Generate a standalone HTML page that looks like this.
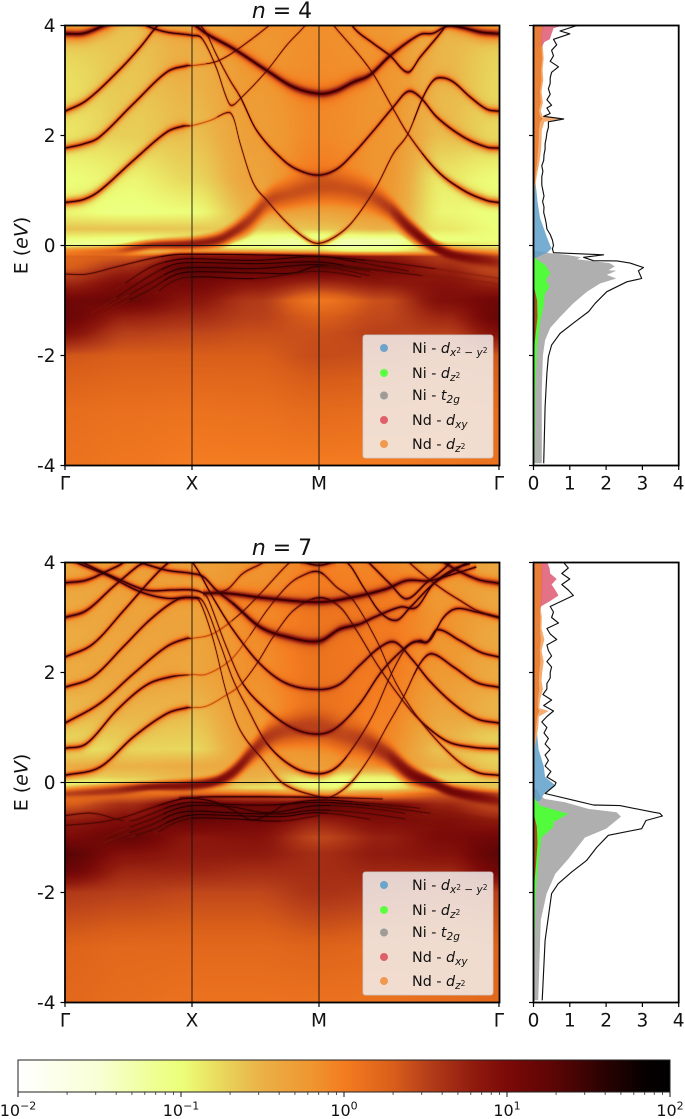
<!DOCTYPE html>
<html lang="en">
<head>
<meta charset="utf-8">
<title>Spectral function and DOS n=4, n=7</title>
<style>
html,body{margin:0;padding:0;background:#fff;}
#figure{position:relative;width:685px;height:1119px;overflow:hidden;background:#fff;font-family:"DejaVu Sans","Liberation Sans",sans-serif;}
canvas{position:absolute;display:block;}
#overlay{position:absolute;left:0;top:0;}
text{font-family:"DejaVu Sans","Liberation Sans",sans-serif;fill:#111;}
.lg{font-size:14.3px;}
.s{font-size:10.5px;font-style:italic;}
.ss{font-size:7.5px;}
.i{font-style:italic;}
</style>
</head>
<body>
<div id="figure">
<canvas id="heat4" width="434" height="441" style="left:65px;top:25px"></canvas>
<canvas id="heat7" width="434" height="441" style="left:65px;top:562px"></canvas>
<svg id="overlay" width="685" height="1119" viewBox="0 0 685 1119" xmlns="http://www.w3.org/2000/svg">
  <defs>
    <clipPath id="clip4"><rect x="65" y="25.5" width="434" height="440"/></clipPath>
    <clipPath id="clip7"><rect x="65" y="562.5" width="434" height="440"/></clipPath>
    <clipPath id="clipd4"><rect x="533.5" y="25.5" width="145" height="440"/></clipPath>
    <clipPath id="clipd7"><rect x="533.5" y="562.5" width="145" height="440"/></clipPath>
    <linearGradient id="cbGrad" x1="0" x2="1" y1="0" y2="0"></linearGradient>
    <filter id="soft" x="-5%" y="-5%" width="110%" height="110%"><feGaussianBlur stdDeviation="0.35"/></filter>
  </defs>
  <g id="layer4" clip-path="url(#clip4)"></g>
  <g id="layer7" clip-path="url(#clip7)"></g>
  <g id="dosLayer4" clip-path="url(#clipd4)"></g>
  <g id="dosLayer7" clip-path="url(#clipd7)"></g>
  <g id="axes"></g>

  <text x="282" y="18" text-anchor="middle" font-size="22"><tspan class="i">n</tspan> = 4</text>
  <text x="282" y="555" text-anchor="middle" font-size="22"><tspan class="i">n</tspan> = 7</text>
  <text transform="translate(27.500,245.500) rotate(-90)" text-anchor="middle" font-size="19">E (<tspan class="i">eV</tspan>)</text>
  <text transform="translate(27.500,782.500) rotate(-90)" text-anchor="middle" font-size="19">E (<tspan class="i">eV</tspan>)</text>

  <g id="legend4">
    <rect x="363" y="335" width="130" height="123" rx="2.5" fill="#f2f0ee" fill-opacity="0.85" stroke="#ccc" stroke-opacity="0.8" stroke-width="1"/>
    <circle cx="384" cy="348" r="4" fill="#6ba5cb"/>
    <text class="lg" x="412" y="353">Ni - <tspan class="i">d</tspan><tspan class="s" dy="3">x</tspan><tspan class="ss" dy="-3">2</tspan><tspan class="s" dy="3"> − y</tspan><tspan class="ss" dy="-3">2</tspan></text>
    <circle cx="384" cy="373" r="4" fill="#5bff3f"/>
    <text class="lg" x="412" y="378">Ni - <tspan class="i">d</tspan><tspan class="s" dy="3">z</tspan><tspan class="ss" dy="-3">2</tspan></text>
    <circle cx="384" cy="395.500" r="4" fill="#a09c98"/>
    <text class="lg" x="412" y="400">Ni - <tspan class="i">t</tspan><tspan class="s" dy="3">2g</tspan></text>
    <circle cx="384" cy="420" r="4" fill="#e0606a"/>
    <text class="lg" x="412" y="425">Nd - <tspan class="i">d</tspan><tspan class="s" dy="3">xy</tspan></text>
    <circle cx="384" cy="444" r="4" fill="#f09a50"/>
    <text class="lg" x="412" y="449">Nd - <tspan class="i">d</tspan><tspan class="s" dy="3">z</tspan><tspan class="ss" dy="-3">2</tspan></text>
  </g>
  <g id="legend7" transform="translate(0,537)">
    <rect x="363" y="335" width="130" height="123" rx="2.5" fill="#f2f0ee" fill-opacity="0.85" stroke="#ccc" stroke-opacity="0.8" stroke-width="1"/>
    <circle cx="384" cy="348" r="4" fill="#6ba5cb"/>
    <text class="lg" x="412" y="353">Ni - <tspan class="i">d</tspan><tspan class="s" dy="3">x</tspan><tspan class="ss" dy="-3">2</tspan><tspan class="s" dy="3"> − y</tspan><tspan class="ss" dy="-3">2</tspan></text>
    <circle cx="384" cy="373" r="4" fill="#5bff3f"/>
    <text class="lg" x="412" y="378">Ni - <tspan class="i">d</tspan><tspan class="s" dy="3">z</tspan><tspan class="ss" dy="-3">2</tspan></text>
    <circle cx="384" cy="395.500" r="4" fill="#a09c98"/>
    <text class="lg" x="412" y="400">Ni - <tspan class="i">t</tspan><tspan class="s" dy="3">2g</tspan></text>
    <circle cx="384" cy="420" r="4" fill="#e0606a"/>
    <text class="lg" x="412" y="425">Nd - <tspan class="i">d</tspan><tspan class="s" dy="3">xy</tspan></text>
    <circle cx="384" cy="444" r="4" fill="#f09a50"/>
    <text class="lg" x="412" y="449">Nd - <tspan class="i">d</tspan><tspan class="s" dy="3">z</tspan><tspan class="ss" dy="-3">2</tspan></text>
  </g>

  <g id="colorbar">
    <rect x="18" y="1060" width="652" height="32" fill="url(#cbGrad)" stroke="#222" stroke-width="1"/>
  </g>
</svg>
</div>
<script>
/* ---------- tick labels ---------- */
const energyTicks=[4,2,0,-2,-4];
const energyTickLabels=["4","2","0","-2","-4"];
const pathTicks=[0,1,2,3.417];
const pathTickLabels=["Γ","X","M","Γ"];
const dosTicks=[0,1,2,3,4];
const dosTickLabels=["0","1","2","3","4"];
const cbDecades=[-2,-1,0,1,2];
const cbExponents=["−2","−1","0","1","2"];

/* ---------- colormap (log10 intensity -> colour) ---------- */
const cmapPos=[-2,-1.5,-1.15,-1,-0.85,-0.7,-0.5,-0.2,0,0.3,0.5,0.8,1,1.3,1.6,1.85,2];
const cmapHex=["#ffffff","#f8ffd4","#eeff90","#ecff7a","#ebe866","#e8cf58","#ebb046","#ef9630","#f47c20","#d95f1a","#b8401a","#8f1a0e","#7b0a08","#5a0505","#2a0202","#060000","#000000"];

/* ---------- background intensity (log10) on a coarse k/E grid ---------- */
const bgK=[0,0.5,1,1.5,2,2.5,3,3.417];
const bgE=[4,3,2,1.2,0.6,0.3,0.1,0,-0.1,-0.2,-0.4,-0.7,-1,-1.3,-1.6,-2,-3,-4];
const bg4=[
[-0.72,-0.62,-0.45,-0.2,-0.15,-0.2,-0.55,-0.72],
[-0.8,-0.65,-0.5,-0.25,-0.12,-0.2,-0.55,-0.75],
[-0.85,-0.7,-0.6,-0.3,-0.1,-0.2,-0.6,-0.78],
[-1.0,-0.95,-0.75,-0.35,0.02,-0.2,-0.9,-1.0],
[-1.0,-1.05,-1.0,-0.5,-0.38,-0.25,-0.95,-1.05],
[-0.62,-0.62,-0.65,-0.7,-0.65,-0.5,-0.85,-1.0],
[-1.05,-1.1,-0.95,-1.2,-1.4,-1.3,-1.05,-1.0],
[-1.3,-1.35,-1.25,-1.35,-1.5,-1.25,-0.7,-0.9],
[-0.75,-0.75,-0.95,-1.0,-1.25,-1.0,-0.5,-0.55],
[0.2,0.3,0.8,0.9,1.1,0.8,0.5,0.2],
[0.3,0.65,1.25,1.15,1.2,1.05,0.7,0.35],
[0.7,1.0,1.05,0.85,0.65,0.8,0.9,0.7],
[1.1,1.15,0.85,0.55,0.05,0.4,0.95,1.1],
[1.15,0.75,0.65,0.5,0.3,0.45,0.7,1.15],
[0.9,0.5,0.45,0.4,0.4,0.5,0.5,0.9],
[0.35,0.3,0.3,0.3,0.42,0.4,0.3,0.35],
[0.15,0.12,0.1,0.12,0.18,0.15,0.1,0.15],
[0.1,0.05,0,0,0,0,0.05,0.1]];
const bg7=[
[-0.42,-0.35,-0.35,-0.2,-0.05,-0.1,-0.3,-0.42],
[-0.45,-0.35,-0.35,-0.15,0.05,0.02,-0.2,-0.4],
[-0.45,-0.4,-0.38,-0.15,0.08,0.02,-0.25,-0.45],
[-0.6,-0.55,-0.6,-0.25,0.1,-0.05,-0.4,-0.55],
[-0.85,-0.75,-0.75,-0.3,-0.2,-0.1,-0.65,-0.85],
[-0.5,-0.5,-0.45,-0.4,-0.3,-0.2,-0.5,-0.7],
[-0.85,-0.65,-0.55,-0.5,-1.0,-0.9,-0.75,-0.85],
[-1.05,-0.95,-0.55,-0.6,-1.15,-1.05,-0.75,-0.7],
[-0.85,-0.55,-0.35,-0.9,-1.1,-0.95,-0.35,-0.65],
[0.0,0.1,0.1,0.0,-0.6,-0.2,0.3,0.3],
[0.3,0.65,1.2,1.1,1.2,1.05,0.7,0.35],
[0.8,0.95,1.15,1.05,0.75,0.95,0.95,0.8],
[1.0,1.2,0.85,0.9,0.45,0.75,1.0,1.1],
[1.3,0.9,0.8,0.8,0.65,0.8,0.9,1.25],
[1.15,0.7,0.7,0.65,0.65,0.7,0.7,1.1],
[0.55,0.5,0.45,0.45,0.6,0.55,0.45,0.5],
[0.25,0.2,0.2,0.2,0.25,0.2,0.2,0.25],
[0.2,0.15,0.1,0.1,0.1,0.1,0.15,0.2]];

/* ---------- n=4 bands: k path position, energy (eV), spectral weight ---------- */
const a4k=[0,0.15,0.275,0.54,0.8,0.93,1,1.15,1.29,1.33,1.38,1.48,1.59,1.745,1.9,2,2.14,2.27,2.45,2.585,2.7,2.82,2.9,2.97,3.06,3.19,3.32,3.417];
const a4e=[0.78,0.84,1.0,1.55,2.06,2.17,2.18,2.28,2.42,2.3,1.85,1.15,0.82,0.42,0.12,0.04,0.18,0.45,1.06,1.67,2.03,2.7,3.0,3.05,2.97,2.7,2.48,2.44];
const a4w=[1,1,1,1,1,1,0.1,0.1,0.4,0.5,0.5,0.5,0.4,0.4,0.4,0.4,0.4,0.4,0.4,0.5,0.5,1,1,1,1,1,1,1];
const b4k=[0,0.15,0.27,0.54,0.8,0.96,1,1.17,1.26,1.38,1.59,1.8];
const b4e=[1.77,1.85,1.97,2.58,3.15,3.27,3.27,3.33,3.42,3.6,3.97,4.4];
const b4w=[1,1,1,1,1,1,0.15,0.25,0.3,0.3,0.3,0.3];
const b42k=[1.05,1.115,1.19,1.3,1.38,1.51,1.72,1.85,2,2.14,2.27,2.43,2.585,2.7,2.795,2.93,3.14,3.32,3.417];
const b42e=[4.05,3.85,3.48,3.0,2.7,2.09,1.55,1.36,1.28,1.39,1.67,2.09,2.52,2.8,2.7,2.33,1.97,1.79,1.77];
const b42w=[0.5,0.5,0.5,0.6,0.7,0.8,0.9,1,1,1,1,1,1,1.1,1.1,1.1,1.1,1.1,1.1];
const c4k=[0,0.17,0.41,0.59,0.71,0.85];
const c4e=[2.44,2.64,3.15,3.6,3.95,4.3];
const c4w=[1,1,1,1,1,1];
const c42k=[1.95,2.126,2.4,2.585,2.7,2.93,3.14,3.32,3.417];
const c42e=[4.45,3.97,3.21,2.48,2.03,1.36,1.0,0.82,0.78];
const c42w=[0.35,0.35,0.4,0.5,0.6,0.8,1,1,1];
const d4k=[0,0.15,0.33,0.5,0.67,0.8,1,1.08,1.19,1.26,1.305,1.38,1.59,1.745,1.88,2];
const d4e=[3.85,3.86,4.02,4.15,3.97,3.88,3.82,3.76,3.24,2.76,2.55,2.67,3.18,3.64,3.97,4.3];
const d4w=[2.5,2.5,2.5,1,1,1,1,0.7,0.6,0.6,0.5,0.25,0.25,0.25,0.25,0.25];
const w4k=[1,1.115,1.325,1.59,1.8,2,2.13,2.27,2.4,2.56,2.79,2.9,3.0,3.11,3.27,3.417];
const w4e=[4.05,3.85,3.58,3.18,2.88,2.76,2.81,2.97,3.1,3.45,3.83,3.86,3.98,3.97,3.88,3.85];
const w4w=[2,2,2.2,2.5,3,3,3,3,2.5,2,1,1,1,2,2.5,2.5];
const e4k=[2.2,2.27,2.43,2.56,2.7,2.795,2.99,3.1];
const e4e=[4.3,3.97,3.67,3.45,3.15,3.42,3.97,4.4];
const e4w=[0.8,0.8,0.8,0.9,1,1,1,1];
/* n=4 flat bands below the Fermi level */
const f41k=[0,0.17,0.4,0.67,0.85,1,1.5,2,2.5,3,3.417];
const f41e=[-0.52,-0.52,-0.39,-0.24,-0.17,-0.16,-0.17,-0.2,-0.3,-0.45,-0.6];
const f41w=[0.3,0.3,0.3,0.5,0.9,1,1,1,0.6,0.15,0.1];
const f42k=[0.4,0.67,0.85,1,1.5,2,2.3,2.8,3.417];
const f42e=[-0.8,-0.4,-0.27,-0.24,-0.27,-0.2,-0.3,-0.5,-0.7];
const f42w=[0.1,0.5,0.8,0.8,0.8,0.9,0.7,0.12,0.08];
const f43k=[0.2,0.4,0.67,0.85,1,1.5,2,2.3,3];
const f43e=[-1.25,-0.95,-0.55,-0.35,-0.31,-0.33,-0.3,-0.4,-0.6];
const f43w=[0.08,0.2,0.6,0.8,0.8,0.8,0.9,0.6,0.08];
const f44k=[0.3,0.5,0.67,0.85,1,1.5,2,2.5];
const f44e=[-1.15,-0.9,-0.68,-0.46,-0.4,-0.42,-0.35,-0.5];
const f44w=[0.08,0.2,0.5,0.8,0.8,0.8,0.8,0.1];
const f45k=[0.3,0.5,0.67,0.85,1,1.5,1.8,2,2.5];
const f45e=[-1.25,-1,-0.8,-0.55,-0.48,-0.5,-0.5,-0.38,-0.6];
const f45w=[0.08,0.2,0.5,0.8,0.8,0.8,0.8,0.7,0.1];
const f46k=[0.7,0.85,1,1.5,2,2.5];
const f46e=[-0.9,-0.65,-0.57,-0.6,-0.47,-0.65];
const f46w=[0.1,0.5,0.7,0.7,0.5,0.08];
/* n=4 broad hybridised band: energy, peak intensity, sigma */
const broad4k=[0,0.4,0.67,1,1.2,1.33,1.45,1.6,1.75,2,2.2,2.4,2.55,2.72,2.9,3.06,3.417];
const broad4e=[-0.12,-0.1,0,0.03,0.1,0.25,0.45,0.8,0.92,1.05,1.03,0.9,0.68,0.3,-0.02,-0.17,-0.3];
const broad4p=[0.6,1.5,5,6,6,5,3.5,2.4,2,1.7,1.7,2,3,8,14,9,3];
const broad4s=[0.05,0.05,0.04,0.05,0.06,0.07,0.1,0.12,0.14,0.16,0.16,0.14,0.11,0.08,0.05,0.05,0.08];

/* ---------- n=7 bands ---------- */
const p1k=[0,0.275,0.54,0.8,0.96,1,1.115,1.27,1.38,1.51,1.64,1.8,2,2.165,2.297,2.454,2.61,2.77,3.0,3.215,3.417];
const p1e=[0.13,0.28,0.83,1.25,1.36,1.36,1.39,1.59,1.77,2.16,2.65,3.13,3.36,3.19,2.76,2.16,1.64,1.19,0.76,0.64,0.61];
const p1w=[1,1,1,1,1,0.1,0.1,0.15,0.2,0.3,0.3,0.4,0.8,0.6,0.5,0.5,0.5,0.6,0.9,1,1];
const p2k=[0,0.17,0.41,0.64,0.83,1,1.115,1.3,1.43,1.59,1.745,1.85,2,2.14,2.27,2.454,2.61,2.795,3.06,3.24,3.417];
const p2e=[0.62,0.71,1.32,1.77,1.92,1.96,1.97,2.22,2.59,3.13,3.56,3.74,3.83,3.55,3.31,2.58,1.79,1.13,0.46,0.19,0.13];
const p2w=[1,1,1,1,1,0.1,0.1,0.15,0.2,0.3,0.4,0.5,0.8,0.5,0.4,0.4,0.4,0.5,0.6,0.8,0.8];
const p3k=[0,0.275,0.54,0.8,0.96,1,1.17,1.38,1.54,1.75,1.9,2,2.23,2.35,2.48,2.61,2.72,2.9,3.11,3.25];
const p3e=[1.08,1.44,1.98,2.47,2.62,2.62,2.71,3.07,3.44,3.96,4.25,4.3,3.98,3.55,3.1,2.95,3.19,3.61,3.92,4.1];
const p3w=[1,1,1,1,1,0.1,0.15,0.25,0.3,0.4,0.4,0.4,0.7,0.7,0.8,1,1,1,1,1];
const p4k=[0,0.22,0.46,0.67,0.88,1,1.063,1.168,1.273,1.38,1.56,1.72,2,2.087,2.244,2.4,2.53,2.664,2.795,2.887,3.06,3.24,3.417];
const p4e=[1.73,1.92,2.47,2.96,3.32,3.36,3.28,2.59,1.62,0.95,0.41,-0.02,-0.26,-0.27,-0.02,0.46,1.0,1.55,2.16,2.34,2.1,1.82,1.73];
const p4w=[1,1,1,1,1,1,0.6,0.6,0.5,0.5,0.5,0.5,0.5,0.5,0.4,0.4,0.4,0.5,0.8,1,1,1,1];
const p5k=[0,0.22,0.46,0.67,0.8,0.92,1.02,1.168,1.325,1.535,1.745,2,2.165,2.32,2.48,2.6,2.74,2.87,3.06,3.24,3.417];
const p5e=[2.28,2.52,3.12,3.67,3.97,4.15,3.95,3.35,2.77,2.16,1.8,1.69,1.79,2.13,2.46,2.55,2.22,1.85,1.43,1.16,1.08];
const p5w=[1,1,1,1,1,1,0.7,0.7,0.8,1,1.2,1.2,1.2,1.2,1.2,1.2,1,1,1,1,1];
const p6k=[0,0.17,0.38,0.565,0.62,0.8];
const p6e=[3.0,3.13,3.56,3.92,4.0,4.3];
const p6w=[1.4,1.4,1,1,1,1];
const p7k=[0,0.17,0.355,0.46,0.6];
const p7e=[3.63,3.68,3.87,4.0,4.3];
const p7w=[1.4,1.4,1,1,1];
const d71k=[0,0.09,0.33,0.59,0.8,1,1.09,1.22,1.325,1.43,1.59,1.8,2,2.14,2.27,2.43,2.57,2.69,2.795,2.85,2.93,3.11,3.27,3.417];
const d71e=[4.1,4.0,3.77,3.47,3.35,3.36,3.28,2.53,1.86,1.38,0.71,0.28,0.16,0.28,0.64,1.25,1.98,2.46,2.58,2.55,2.78,2.58,2.37,2.28];
const d71w=[1,1,1,1,1,1,0.6,0.5,0.5,0.5,0.7,0.9,1,0.9,0.6,0.5,0.5,0.7,1,1,1,1,1,1];
const d72k=[0,0.14,0.41,0.64,0.85,1,1.09,1.13,1.27,1.40,1.59,1.8,2,2.14,2.32,2.48,2.61,2.74,2.87,2.98,3.08,3.24,3.417];
const d72e=[4.2,4.0,3.71,3.5,3.5,3.5,3.44,3.32,2.47,1.8,1.32,0.98,0.88,1.0,1.43,1.98,2.31,2.55,2.58,3.0,3.16,3.1,3.0];
const d72w=[1,1,1,1,1,1,0.7,0.6,0.6,0.7,0.9,1.1,1.2,1.1,1,1,1,1,1,1,1,1,1];
const d73k=[0.59,0.8,1,1.09,1.19,1.325,1.535,1.745,2,2.165,2.32,2.43,2.64,2.77,2.9,3.06,3.19];
const d73e=[4.0,3.86,3.8,3.74,3.5,3.25,2.83,2.65,2.57,2.79,2.88,3.0,3.19,3.19,3.61,3.88,3.98];
const d73w=[1,1,1,1,1.2,2,2.5,2.8,2.8,2.5,2,1.5,1,1,0.8,0.8,0.8];
const fw7k=[1.09,1.27,1.59,2,2.27,2.53,2.69,2.87,3.06,3.24];
const fw7e=[3.44,3.44,3.35,3.28,3.37,3.52,3.67,3.67,3.79,3.92];
const fw7w=[1.5,2.2,2.5,2.6,2.5,2.2,1.8,1.2,0.8,0.8];
const t7k=[1.09,1.27,1.40,1.56,1.7];
const t7e=[3.44,3.5,3.8,4.0,4.25];
const t7w=[0.5,0.5,0.5,0.5,0.5];
const u7k=[1.85,2,2.13];
const u7e=[4.02,3.95,4.02];
const u7w=[1,1,1];
const v7k=[2.25,2.40,2.56,2.69,2.85,3.0,3.1];
const v7e=[4.3,3.98,3.61,3.34,3.64,3.92,4.2];
const v7w=[0.8,0.8,0.9,1,1,1,1];
const x7k=[2.6,2.72,2.95,3.11,3.25,3.417];
const x7e=[4.3,3.98,3.55,3.31,3.12,3.0];
const x7w=[0.5,0.5,0.5,0.5,0.6,0.8];
const y7k=[2.85,3.0,3.24,3.417];
const y7e=[4.3,3.98,3.7,3.62];
const y7w=[1.4,1.4,1.6,1.8];
/* n=7 flat bands */
const f71k=[0,0.28,0.48,0.67,0.88,1,1.17,1.32,1.48,1.66,1.72,2,2.4,2.9,3.417];
const f71e=[-0.78,-0.72,-0.62,-0.47,-0.32,-0.29,-0.35,-0.5,-0.68,-0.5,-0.41,-0.32,-0.38,-0.5,-0.7];
const f71w=[0.4,0.4,0.4,0.6,0.9,0.9,0.9,0.8,0.8,0.8,0.8,0.9,0.6,0.12,0.08];
const f72k=[0,0.22,0.5,0.67,0.85,1,1.3,1.6,2,2.4,3,3.417];
const f72e=[-0.6,-0.56,-0.7,-0.58,-0.42,-0.36,-0.4,-0.41,-0.36,-0.42,-0.6,-0.75];
const f72w=[0.5,0.35,0.2,0.5,0.8,0.8,0.8,0.8,0.9,0.7,0.1,0.08];
const f73k=[0.3,0.5,0.7,0.85,1,1.3,1.6,2,2.5,3];
const f73e=[-1.0,-0.82,-0.65,-0.5,-0.42,-0.44,-0.55,-0.42,-0.5,-0.7];
const f73w=[0.08,0.2,0.6,0.8,0.8,0.8,0.8,0.8,0.3,0.08];
const f74k=[0.3,0.5,0.7,0.85,1,1.3,1.7,2,2.5,3];
const f74e=[-1.1,-0.92,-0.75,-0.58,-0.52,-0.55,-0.57,-0.5,-0.6,-0.8];
const f74w=[0.08,0.2,0.6,0.8,0.8,0.8,0.8,0.8,0.3,0.08];
const f75k=[0.5,0.7,0.85,1,1.3,1.7,2,2.5];
const f75e=[-1,-0.85,-0.68,-0.59,-0.6,-0.62,-0.55,-0.7];
const f75w=[0.1,0.5,0.8,0.8,0.8,0.8,0.8,0.1];
const f76k=[0.7,0.85,1,1.3,1.7,2];
const f76e=[-0.95,-0.75,-0.65,-0.66,-0.7,-0.6];
const f76w=[0.1,0.5,0.7,0.7,0.7,0.4];
const f77k=[0.9,1.2,2,2.5];
const f77e=[-0.28,-0.26,-0.27,-0.3];
const f77w=[0.5,0.9,0.9,0.3];
const broad7k=[0,0.4,0.67,1,1.2,1.33,1.48,1.6,1.75,2,2.2,2.35,2.53,2.72,2.9,3.06,3.417];
const broad7e=[-0.2,-0.14,-0.08,-0.05,0.03,0.2,0.56,0.82,0.95,1.0,0.85,0.75,0.52,0.16,-0.02,-0.17,-0.33];
const broad7p=[2,4,8,9,10,8,4.5,3,2.4,2,2,2.4,4,10,15,12,4];
const broad7s=[0.05,0.05,0.04,0.05,0.05,0.07,0.1,0.13,0.15,0.17,0.17,0.15,0.11,0.08,0.05,0.05,0.07];

/* ---------- n=4 DOS series (energy grid / DOS value) ---------- */
const total4E=[4,3.9,3.85,3.75,3.65,3.55,3.45,3.35,3.25,3.15,3.05,2.95,2.85,2.75,2.65,2.55,2.5,2.4,2.35,2.3,2.25,2.15,2.05,1.95,1.85,1.75,1.65,1.55,1.45,1.35,1.25,1.1,0.9,0.8,0.7,0.6,0.5,0.4,0.3,0.2,0.1,0,-0.06,-0.13,-0.17,-0.215,-0.276,-0.28,-0.32,-0.4,-0.46,-0.6,-0.66,-0.84,-1.05,-1.2,-1.41,-1.6,-1.81,-2.02,-2.32,-2.93,-3.96];
const total4V=[1.2,0.73,1.0,0.55,0.64,0.5,0.55,0.46,0.69,0.5,0.46,0.46,0.41,0.46,0.37,0.5,0.37,0.46,0.28,0.83,0.41,0.41,0.37,0.35,0.32,0.32,0.29,0.28,0.23,0.26,0.23,0.23,0.29,0.25,0.29,0.28,0.32,0.35,0.37,0.46,0.52,0.55,0.52,0.55,1.93,1.38,1.65,2.3,2.66,3.03,2.89,2.98,2.57,2.02,1.7,1.52,1.1,0.73,0.5,0.41,0.37,0.32,0.28];
const t2g4E=[-0.1,-0.14,-0.17,-0.215,-0.25,-0.32,-0.38,-0.45,-0.46,-0.535,-0.6,-0.69,-0.84,-1.05,-1.3,-1.5,-1.72,-2.0,-2.63,-3.96];
const t2g4V=[0.1,0.46,0.9,1.3,1.2,2.1,2.24,2.07,2.28,2.02,2.28,1.84,1.47,1.1,0.73,0.46,0.32,0.26,0.23,0.23];
const green4E=[-0.2,-0.26,-0.35,-0.5,-0.63,-0.75,-0.9,-1.1,-1.4,-1.85,-2.6,-3.96];
const green4V=[0,0.1,0.32,0.46,0.35,0.44,0.3,0.28,0.18,0.1,0.05,0.03];
const blue4E=[1.4,1.2,0.8,0.5,0.3,0.15,0,-0.05,-0.12,-0.18,-0.25];
const blue4V=[0,0.05,0.11,0.18,0.29,0.37,0.46,0.5,0.4,0.2,0];
const ndOrange4E=[4,3.8,3.6,3.4,3.2,3,2.8,2.6,2.45,2.35,2.3,2.25,2.1,1.9,1.7,1.5,1.3,1.1,0.9];
const ndOrange4V=[0.3,0.22,0.26,0.28,0.25,0.27,0.22,0.26,0.2,0.25,0.73,0.3,0.23,0.22,0.2,0.16,0.1,0.05,0.02];
const ndDeep4V=[0.24,0.2,0.22,0.24,0.21,0.22,0.18,0.2,0.15,0.18,0.25,0.18,0.15,0.14,0.12,0.1,0.06,0.03,0.01];
const ndRed4E=[4,3.95,3.85,3.75,3.7,3.6];
const ndRed4V=[0.8,0.55,0.5,0.45,0.3,0.22];
const ndLow4E=[-0.8,-1.0,-1.3,-1.6,-1.9];
const ndLow4V=[0.03,0.1,0.11,0.06,0.01];

/* ---------- n=7 DOS series ---------- */
const total7E=[4,3.9,3.8,3.7,3.6,3.5,3.4,3.3,3.2,3.1,3.0,2.9,2.8,2.7,2.6,2.5,2.4,2.3,2.2,2.1,2.0,1.9,1.8,1.7,1.6,1.5,1.4,1.3,1.2,1.1,1.0,0.9,0.8,0.7,0.6,0.5,0.4,0.3,0.2,0.1,0,-0.05,-0.2,-0.33,-0.41,-0.42,-0.54,-0.56,-0.61,-0.69,-0.84,-0.96,-1.18,-1.42,-1.63,-1.84,-2.02,-2.87,-3.96];
const total7V=[0.83,0.96,0.78,1.0,0.78,0.96,1.1,0.78,0.46,0.55,0.5,0.69,0.37,0.46,0.64,0.37,0.41,0.5,0.37,0.5,0.46,0.46,0.37,0.37,0.26,0.5,0.28,0.55,0.37,0.23,0.37,0.29,0.41,0.32,0.46,0.32,0.41,0.32,0.48,0.37,0.62,0.59,0.32,1.14,1.65,2.38,3.3,3.48,3.55,3.1,2.98,2.06,1.74,1.46,1.05,0.68,0.5,0.32,0.24];
const t2g7E=[-0.12,-0.24,-0.3,-0.36,-0.48,-0.54,-0.62,-0.84,-1,-1.39,-1.66,-2.02,-2.5,-3.96];
const t2g7V=[0.1,0.18,0.32,0.87,1.51,2.29,2.41,2.0,1.42,0.96,0.6,0.36,0.2,0.13];
const green7E=[-0.2,-0.3,-0.42,-0.57,-0.72,-0.81,-1,-1.48,-2.02,-2.8,-3.96];
const green7V=[0,0.04,0.18,0.96,0.55,0.55,0.22,0.13,0.06,0.03,0.02];
const blue7E=[1.1,0.95,0.6,0.3,0.1,-0.05,-0.18,-0.33,-0.35];
const blue7V=[0,0.09,0.14,0.28,0.32,0.6,0.32,0.18,0];
const ndOrange7E=[4,3.6,3.3,3.15,3,2.8,2.6,2.4,2.2,2,1.85,1.7,1.5,1.35,1.3,1.2,1.0,0.8,0.6];
const ndOrange7V=[0.25,0.25,0.24,0.2,0.23,0.22,0.3,0.22,0.28,0.24,0.22,0.26,0.18,0.16,0.42,0.15,0.13,0.08,0.02];
const ndDeep7V=[0.22,0.22,0.2,0.17,0.19,0.18,0.2,0.17,0.19,0.16,0.15,0.16,0.12,0.12,0.16,0.1,0.07,0.04,0.01];
const ndRed7E=[4,3.9,3.8,3.7,3.6,3.5,3.4,3.3,3.2,3.1];
const ndRed7V=[0.38,0.44,0.46,0.64,0.5,0.6,0.69,0.46,0.2,0.16];
const ndLow7E=[-0.6,-0.8,-1.1,-1.5,-1.9];
const ndLow7V=[0.02,0.09,0.11,0.07,0.01];

/* ---------- assembled lists ---------- */
const bands4=[[a4k,a4e,a4w],[b4k,b4e,b4w],[b42k,b42e,b42w],[c4k,c4e,c4w],[c42k,c42e,c42w],[d4k,d4e,d4w],[w4k,w4e,w4w],[e4k,e4e,e4w],[f41k,f41e,f41w],[f42k,f42e,f42w],[f43k,f43e,f43w],[f44k,f44e,f44w],[f45k,f45e,f45w],[f46k,f46e,f46w]];
const bands7=[[p1k,p1e,p1w],[p2k,p2e,p2w],[p3k,p3e,p3w],[p4k,p4e,p4w],[p5k,p5e,p5w],[p6k,p6e,p6w],[p7k,p7e,p7w],[d71k,d71e,d71w],[d72k,d72e,d72w],[d73k,d73e,d73w],[fw7k,fw7e,fw7w],[t7k,t7e,t7w],[u7k,u7e,u7w],[v7k,v7e,v7w],[x7k,x7e,x7w],[y7k,y7e,y7w],[f71k,f71e,f71w],[f72k,f72e,f72w],[f73k,f73e,f73w],[f74k,f74e,f74w],[f75k,f75e,f75w],[f76k,f76e,f76w],[f77k,f77e,f77w]];

const SVGNS="http://www.w3.org/2000/svg";
function mk(tag,attrs,parent){
  const el=document.createElementNS(SVGNS,tag);
  for(const a in attrs){el.setAttribute(a,attrs[a]);}
  parent.appendChild(el);
  return el;
}
function hexRGB(h){return [parseInt(h.substr(1,2),16),parseInt(h.substr(3,2),16),parseInt(h.substr(5,2),16)];}

/* axis functions */
const X0=65,KPX=127,EPX=55;
function xOfK(k){return X0+KPX*k;}
function yOfE(E,y0){return y0-EPX*E;}
const DOSX0=533.5,DOSPX=36.3;
function xOfDos(v){return DOSX0+DOSPX*v;}
function xOfCb(l){return 18+163*(l+2);}

/* colour LUT */
const LUTN=1200,lut=[];
(function(){
  for(let i=0;i<=LUTN;i++){
    const l=-2+4*i/LUTN;
    let j=0;
    while(j<cmapPos.length-2&&l>cmapPos[j+1])j++;
    const t=Math.max(0,Math.min(1,(l-cmapPos[j])/(cmapPos[j+1]-cmapPos[j])));
    const a=hexRGB(cmapHex[j]),b=hexRGB(cmapHex[j+1]);
    lut.push([a[0]+(b[0]-a[0])*t,a[1]+(b[1]-a[1])*t,a[2]+(b[2]-a[2])*t]);
  }
})();

/* smooth interpolation of a band between its read nodes */
function hermite(ks,es,k){
  const n=ks.length;
  if(k<=ks[0])return es[0];
  if(k>=ks[n-1])return es[n-1];
  let i=0;
  while(i<n-2&&k>ks[i+1])i++;
  const h=ks[i+1]-ks[i],t=(k-ks[i])/h;
  const m0=i>0?(es[i+1]-es[i-1])/(ks[i+1]-ks[i-1]):(es[1]-es[0])/h;
  const m1=i<n-2?(es[i+2]-es[i])/(ks[i+2]-ks[i]):(es[n-1]-es[n-2])/h;
  const t2=t*t,t3=t2*t;
  return (2*t3-3*t2+1)*es[i]+(t3-2*t2+t)*h*m0+(-2*t3+3*t2)*es[i+1]+(t3-t2)*h*m1;
}
function linear(ks,vs,k){
  const n=ks.length;
  if(k<=ks[0])return vs[0];
  if(k>=ks[n-1])return vs[n-1];
  let i=0;
  while(i<n-2&&k>ks[i+1])i++;
  return vs[i]+(vs[i+1]-vs[i])*(k-ks[i])/(ks[i+1]-ks[i]);
}
function smooth(t){return t*t*(3-2*t);}

/* heatmap: background grid plus fast-decaying band broadening */
function paintHeat(id,grid,bands,bk,be,bp,bs,y0,top){
  const c=document.getElementById(id),ctx=c.getContext('2d');
  const W=c.width,H=c.height,img=ctx.createImageData(W,H),d=img.data;
  const rowI=[],rowT=[];
  for(let py=0;py<H;py++){
    const E=(y0-(top+py+0.5))/EPX;
    let r=0;
    while(r<bgE.length-2&&E<bgE[r+1])r++;
    rowI.push(r);
    rowT.push(Math.max(0,Math.min(1,(bgE[r]-E)/(bgE[r]-bgE[r+1]))));
  }
  for(let px=0;px<W;px++){
    const k=(px+0.5)/KPX;
    let q=0;
    while(q<bgK.length-2&&k>bgK[q+1])q++;
    const qt=smooth(Math.max(0,Math.min(1,(k-bgK[q])/(bgK[q+1]-bgK[q]))));
    const list=[];
    for(const b of bands){
      const ks=b[0];
      if(k<ks[0]||k>ks[ks.length-1])continue;
      const w=linear(ks,b[2],k);
      const eta=0.012+0.012*w;
      list.push([hermite(ks,b[1],k),0.55*w/(3.14159*eta),eta]);
    }
    const be0=hermite(bk,be,k),bp0=linear(bk,bp,k),bs0=linear(bk,bs,k);
    for(let py=0;py<H;py++){
      const E=(y0-(top+py+0.5))/EPX;
      const r=rowI[py],t=rowT[py];
      const top0=grid[r][q]+(grid[r][q+1]-grid[r][q])*qt;
      const bot0=grid[r+1][q]+(grid[r+1][q+1]-grid[r+1][q])*qt;
      let A=Math.pow(10,top0+(bot0-top0)*t);
      for(let i=0;i<list.length;i++){
        const u=(E-list[i][0])/list[i][2];
        const q2=1+u*u;
        A+=list[i][1]/(q2*Math.sqrt(q2));
      }
      const ub=(E-be0)/bs0;
      A+=bp0*Math.exp(-0.5*ub*ub);
      const l=Math.max(-2,Math.min(2,Math.log10(A)));
      const col=lut[Math.round((l+2)/4*LUTN)];
      const o=(py*W+px)*4;
      d[o]=col[0];d[o+1]=col[1];d[o+2]=col[2];d[o+3]=255;
    }
  }
  ctx.putImageData(img,0,0);
}

/* sharp band cores as SVG paths, split by spectral weight */
function bucketOf(w){return w>=2?3:(w>=0.7?2:(w>=0.22?1:0));}
const coreWidth=[0.7,0.9,1.1,1.8];
const coreColor=["#8a2c08","#3d0a04","#2a0503","#3a0604"];
const coreOpacity=[0.5,0.85,0.95,0.95];
function drawBands(layerId,bands,y0,tag){
  const layer=document.getElementById(layerId);
  bands.forEach(function(b,idx){
    const ks=b[0],es=b[1],ws=b[2];
    const k0=ks[0],k1=ks[ks.length-1];
    let d='',cur=-1;
    function flush(){
      if(d&&cur>=0){
        const p=mk('path',{d:d,fill:'none',stroke:coreColor[cur],'stroke-width':coreWidth[cur],'stroke-opacity':coreOpacity[cur],'stroke-linejoin':'round'},layer);
        
        
      }
    }
    const steps=Math.max(2,Math.round((k1-k0)*KPX/1.2));
    let last='';
    for(let s=0;s<=steps;s++){
      const k=k0+(k1-k0)*s/steps;
      const pt=xOfK(k).toFixed(1)+' '+yOfE(hermite(ks,es,k),y0).toFixed(1);
      const bk=bucketOf(linear(ks,ws,k));
      if(bk!==cur){flush();d='M'+(last||pt);cur=bk;if(!last){last=pt;continue;}}
      d+='L'+pt;
      last=pt;
    }
    flush();
  });
}

/* DOS filled areas and outline */
function dosPath(Es,Vs,y0,closed){
  let d='';
  if(closed)d='M'+xOfDos(0).toFixed(1)+' '+yOfE(Es[0],y0).toFixed(1);
  for(let i=0;i<Es.length;i++){
    d+=(d?'L':'M')+xOfDos(Vs[i]).toFixed(1)+' '+yOfE(Es[i],y0).toFixed(1);
  }
  if(closed)d+='L'+xOfDos(0).toFixed(1)+' '+yOfE(Es[Es.length-1],y0).toFixed(1)+'Z';
  return d;
}
function addFill(layer,Es,Vs,y0,color,alpha,name){
  const p=mk('path',{d:dosPath(Es,Vs,y0,true),fill:color,'fill-opacity':alpha},layer);
  
  
}
function drawDOS(layerId,y0,s){
  const layer=document.getElementById(layerId);
  addFill(layer,s.t2gE,s.t2gV,y0,'#a8a8a8',0.92,'dos-ni-t2g');
  addFill(layer,s.blueE,s.blueV,y0,'#5f9fc8',0.85,'dos-ni-dx2y2');
  addFill(layer,s.ndE,s.ndV,y0,'#f3a868',0.95,'dos-nd-dz2');
  addFill(layer,s.redE,s.redV,y0,'#e0637a',0.9,'dos-nd-dxy');
  addFill(layer,s.ndE,s.ndD,y0,'#e97f35',0.95,'dos-nd-dz2-core');
  addFill(layer,s.greenE,s.greenV,y0,'#4dff36',0.95,'dos-ni-dz2');
  addFill(layer,s.lowE,s.lowV,y0,'#a84a18',0.95,'dos-nd-dz2-low');
  const line=mk('path',{d:dosPath(s.totE,s.totV,y0,false),fill:'none',stroke:'#111','stroke-width':1.15,'stroke-linejoin':'round'},layer);
  
  
}

/* axes */
const axes=document.getElementById('axes');
function drawAxes(y0,tag){
  const top=yOfE(4,y0),bot=yOfE(-4,y0),left=X0,right=499.5;
  [1,2].forEach(function(k){
    const l=mk('line',{x1:xOfK(k),x2:xOfK(k),y1:top,y2:bot,stroke:'#111','stroke-width':0.9},axes);
    
    
  });
  const ef=mk('line',{x1:left,x2:right,y1:yOfE(0,y0),y2:yOfE(0,y0),stroke:'#111','stroke-width':0.9},axes);
  
  
  const frame=mk('rect',{x:left,y:top,width:right-left,height:bot-top,fill:'none',stroke:'#000','stroke-width':1.8},axes);
  
  
  const dframe=mk('rect',{x:DOSX0,y:top,width:145.2,height:bot-top,fill:'none',stroke:'#000','stroke-width':1.8},axes);
  
  
  energyTicks.forEach(function(E,i){
    const y=yOfE(E,y0);
    const t=mk('line',{x1:left-4.5,x2:left,y1:y,y2:y,stroke:'#000','stroke-width':1.2},axes);
    
    
    const t2=mk('line',{x1:DOSX0-4.5,x2:DOSX0,y1:y,y2:y,stroke:'#000','stroke-width':1.2},axes);
    
    
    const lb=mk('text',{x:left-9.5,y:y+6.5,'text-anchor':'end','font-size':18.5},axes);
    lb.textContent=energyTickLabels[i];
    
    
  });
  pathTicks.forEach(function(k,i){
    const x=Math.min(xOfK(k),right);
    const t=mk('line',{x1:x,x2:x,y1:bot,y2:bot+4.5,stroke:'#000','stroke-width':1.2},axes);
    
    
    const lb=mk('text',{x:x,y:bot+24,'text-anchor':'middle','font-size':18.5},axes);
    lb.textContent=pathTickLabels[i];
    
    
  });
  dosTicks.forEach(function(v,i){
    const x=xOfDos(v);
    const t=mk('line',{x1:x,x2:x,y1:bot,y2:bot+4.5,stroke:'#000','stroke-width':1.2},axes);
    
    
    const lb=mk('text',{x:x,y:bot+24,'text-anchor':'middle','font-size':18.5},axes);
    lb.textContent=dosTickLabels[i];
    
    
  });
}

/* colour bar */
function drawColorbar(){
  const g=document.getElementById('cbGrad');
  cmapPos.forEach(function(l,i){
    mk('stop',{offset:((l+2)/4*100).toFixed(2)+'%','stop-color':cmapHex[i]},g);
  });
  const cb=document.getElementById('colorbar');
  cbDecades.forEach(function(dec,i){
    const x=xOfCb(dec);
    const t=mk('line',{x1:x,x2:x,y1:1092,y2:1097,stroke:'#111','stroke-width':1},cb);
    
    
    if(i<cbDecades.length-1){
      for(let m=2;m<10;m++){
        const xm=xOfCb(dec+Math.log10(m));
        const mt=mk('line',{x1:xm,x2:xm,y1:1092,y2:1095,stroke:'#111','stroke-width':0.7},cb);
        
        
      }
    }
    const lb=mk('text',{x:x,y:1116,'text-anchor':'middle','font-size':16},cb);
    
    
    const base=mk('tspan',{},lb);
    base.textContent='10';
    const sup=mk('tspan',{dy:-6.5,'font-size':11},lb);
    sup.textContent=cbExponents[i];
  });
}

paintHeat('heat4',bg4,bands4,broad4k,broad4e,broad4p,broad4s,245.5,25);
paintHeat('heat7',bg7,bands7,broad7k,broad7e,broad7p,broad7s,782.5,562);
drawBands('layer4',bands4,245.5,'n4');
drawBands('layer7',bands7,782.5,'n7');
document.getElementById('layer4').setAttribute('style','filter:url(#soft)');
document.getElementById('layer7').setAttribute('style','filter:url(#soft)');
drawDOS('dosLayer4',245.5,{totE:total4E,totV:total4V,t2gE:t2g4E,t2gV:t2g4V,greenE:green4E,greenV:green4V,blueE:blue4E,blueV:blue4V,ndE:ndOrange4E,ndV:ndOrange4V,ndD:ndDeep4V,redE:ndRed4E,redV:ndRed4V,lowE:ndLow4E,lowV:ndLow4V});
drawDOS('dosLayer7',782.5,{totE:total7E,totV:total7V,t2gE:t2g7E,t2gV:t2g7V,greenE:green7E,greenV:green7V,blueE:blue7E,blueV:blue7V,ndE:ndOrange7E,ndV:ndOrange7V,ndD:ndDeep7V,redE:ndRed7E,redV:ndRed7V,lowE:ndLow7E,lowV:ndLow7V});
drawAxes(245.5,'n4');
drawAxes(782.5,'n7');
drawColorbar();
</script>
</body>
</html>
